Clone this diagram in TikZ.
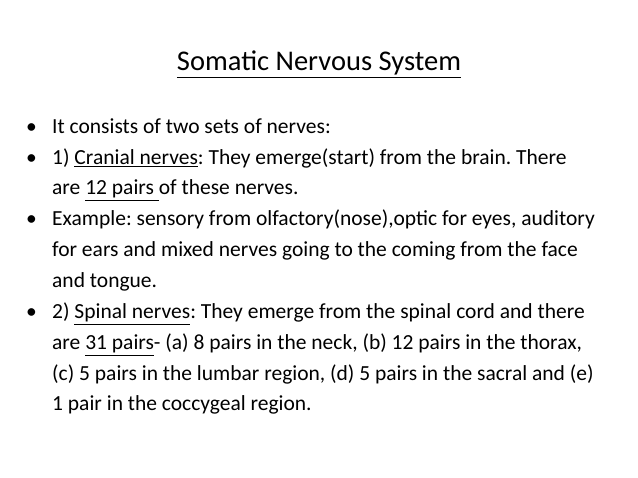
\documentclass[tikz,border=0pt]{standalone}
\usepackage{fontspec}
\setmainfont{Carlito}
\frenchspacing
\begin{document}
\begin{tikzpicture}[x=1pt,y=-1pt,
  ln/.style={anchor=base west,inner sep=0pt,font=\fontsize{21.5}{24}\selectfont},
  bl/.style={anchor=base west,inner sep=0pt,font=\fontsize{21.5}{24}\selectfont}]
\useasboundingbox (0,0) rectangle (638,478);
\node[anchor=base,inner sep=0pt,font=\fontsize{28.5}{30}\selectfont] (title) at (319,71) {\underline{Somatic Nervous System}};
\def\bx{26}\def\tx{52}
\node[bl] (b1) at (\bx,134) {•};
\node[ln] (l1) at (\tx,134) {It consists of two sets of nerves:};
\node[bl] (b2) at (\bx,165) {•};
\node[ln] (l2) at (\tx,165) {1) \underline{Cranial nerves}: They emerge(start) from the brain. There};
\node[ln] (l3) at (\tx,195) {are \underline{12 pairs }of these nerves.};
\node[bl] (b3) at (\bx,226) {•};
\node[ln] (l4) at (\tx,226) {Example: sensory from olfactory(nose),optic for eyes, auditory};
\node[ln] (l5) at (\tx,257) {for ears and mixed nerves going to the coming from the face};
\node[ln] (l6) at (\tx,288) {and tongue.};
\node[bl] (b4) at (\bx,319) {•};
\node[ln] (l7) at (\tx,319) {2) \underline{Spinal nerves}: They emerge from the spinal cord and there};
\node[ln] (l8) at (\tx,350) {are \underline{31 pairs}- (a) 8 pairs in the neck, (b) 12 pairs in the thorax,};
\node[ln] (l9) at (\tx,381) {(c) 5 pairs in the lumbar region, (d) 5 pairs in the sacral and (e)};
\node[ln] (l10) at (\tx,411) {1 pair in the coccygeal region.};
\end{tikzpicture}
\end{document}
